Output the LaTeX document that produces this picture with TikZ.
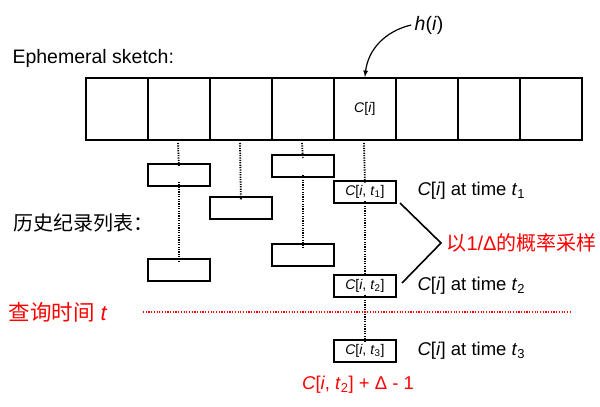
\documentclass[tikz,border=0pt]{standalone}
\usepackage{fontspec}
\setmainfont{Liberation Sans}
\newfontfamily\cjk{Noto Sans CJK SC}
\begin{document}
\begin{tikzpicture}[x=1pt,y=-1pt,
  cell/.style={draw,line width=1.8pt,minimum width=62pt,minimum height=62pt,inner sep=0pt,anchor=north west},
  hbox/.style={draw,line width=1.8pt,minimum width=62pt,minimum height=22pt,inner sep=0pt,anchor=north west,font=\fontsize{14}{15}\selectfont},
  dots/.style={dash pattern=on 1.2pt off 1.2pt,line width=1.8pt},
  lab/.style={anchor=west,font=\fontsize{18.5}{20}\selectfont}]
\useasboundingbox (0,0) rectangle (600,407);
\foreach \i in {0,...,7} \node[cell] (c\i) at (85+62*\i,77) {};
\node at (c4.center) {\fontsize{14}{15}\selectfont\textit{C}[\textit{i}]};
\node[lab,anchor=west,font=\fontsize{19.5}{21}\selectfont] (eph) at (9,58) {Ephemeral sketch:};
\node[lab,font=\fontsize{20}{22}\selectfont] (hist) at (10,223) {\cjk 历史纪录列表：};
\node[lab,anchor=center,font=\fontsize{19.5}{21}\selectfont] (hi) at (429,25) {\textit{h}(\textit{i})};
\draw[-latex,line width=1.2pt] (hi.west) to[bend right=35] (c4.north);
% column 1
\node[hbox] (a1) at (147,163) {};
\node[hbox] (a2) at (147,258) {};
\coordinate (a0) at (178,143);
\draw[dots] (a0) -- ([yshift=-3]a1.north);
\draw[dots] ([yshift=5]a1.south) -- ([yshift=-5]a2.north);
% column 2
\node[hbox] (b1) at (209,196) {};
\coordinate (b0) at (240,143);
\draw[dots] (b0) -- ([yshift=-4]b1.north);
% column 3
\node[hbox] (d1) at (271,154) {};
\node[hbox] (d2) at (271,243) {};
\coordinate (d0) at (302,143);
\draw[dots] (d0) -- ([yshift=-4]d1.north);
\draw[dots] ([yshift=3]d1.south) -- ([yshift=-5]d2.north);
% column 4
\node[hbox] (t1) at (333,180) {\textit{C}[\textit{i}, \textit{t}\textsubscript{1}]};
\node[hbox] (t2) at (333,274) {\textit{C}[\textit{i}, \textit{t}\textsubscript{2}]};
\node[hbox] (t3) at (333,339) {\textit{C}[\textit{i}, \textit{t}\textsubscript{3}]};
\coordinate (e0) at (364,143);
\draw[dots] (e0) -- ([yshift=-3]t1.north);
\draw[dots] ([yshift=3]t1.south) -- ([yshift=-2]t2.north);
\draw[dots] ([yshift=3]t2.south) -- ([yshift=-3]t3.north);
\node[lab] (l1) at (414,191) {\textit{C}[\textit{i}] at time \textit{t}\textsubscript{1}};
\node[lab] (l2) at (414,286) {\textit{C}[\textit{i}] at time \textit{t}\textsubscript{2}};
\node[lab] (l3) at (414,351) {\textit{C}[\textit{i}] at time \textit{t}\textsubscript{3}};
\coordinate (tip) at (441,243);
\draw[line width=1.6pt] (400,203) -- (tip) -- (402,283);
\node[lab,text=red,font=\fontsize{20}{22}\selectfont] (samp) at (443,243) {{\cjk 以}1/Δ{\cjk 的概率采样}};
\coordinate (q1) at (143,312);
\coordinate (q2) at (572,312);
\draw[red,dash pattern=on 1.2pt off 1.5pt,line width=1.6pt] (q1) -- (q2);
\node[lab,text=red,font=\fontsize{21.5}{23}\selectfont] (q) at (5,312) {{\cjk 查询时间} \textit{t}};
\node[lab,text=red,anchor=center,font=\fontsize{18.5}{21}\selectfont] (res) at (358,385) {\textit{C}[\textit{i}, \textit{t}\textsubscript{2}] + Δ - 1};
\end{tikzpicture}
\end{document}
